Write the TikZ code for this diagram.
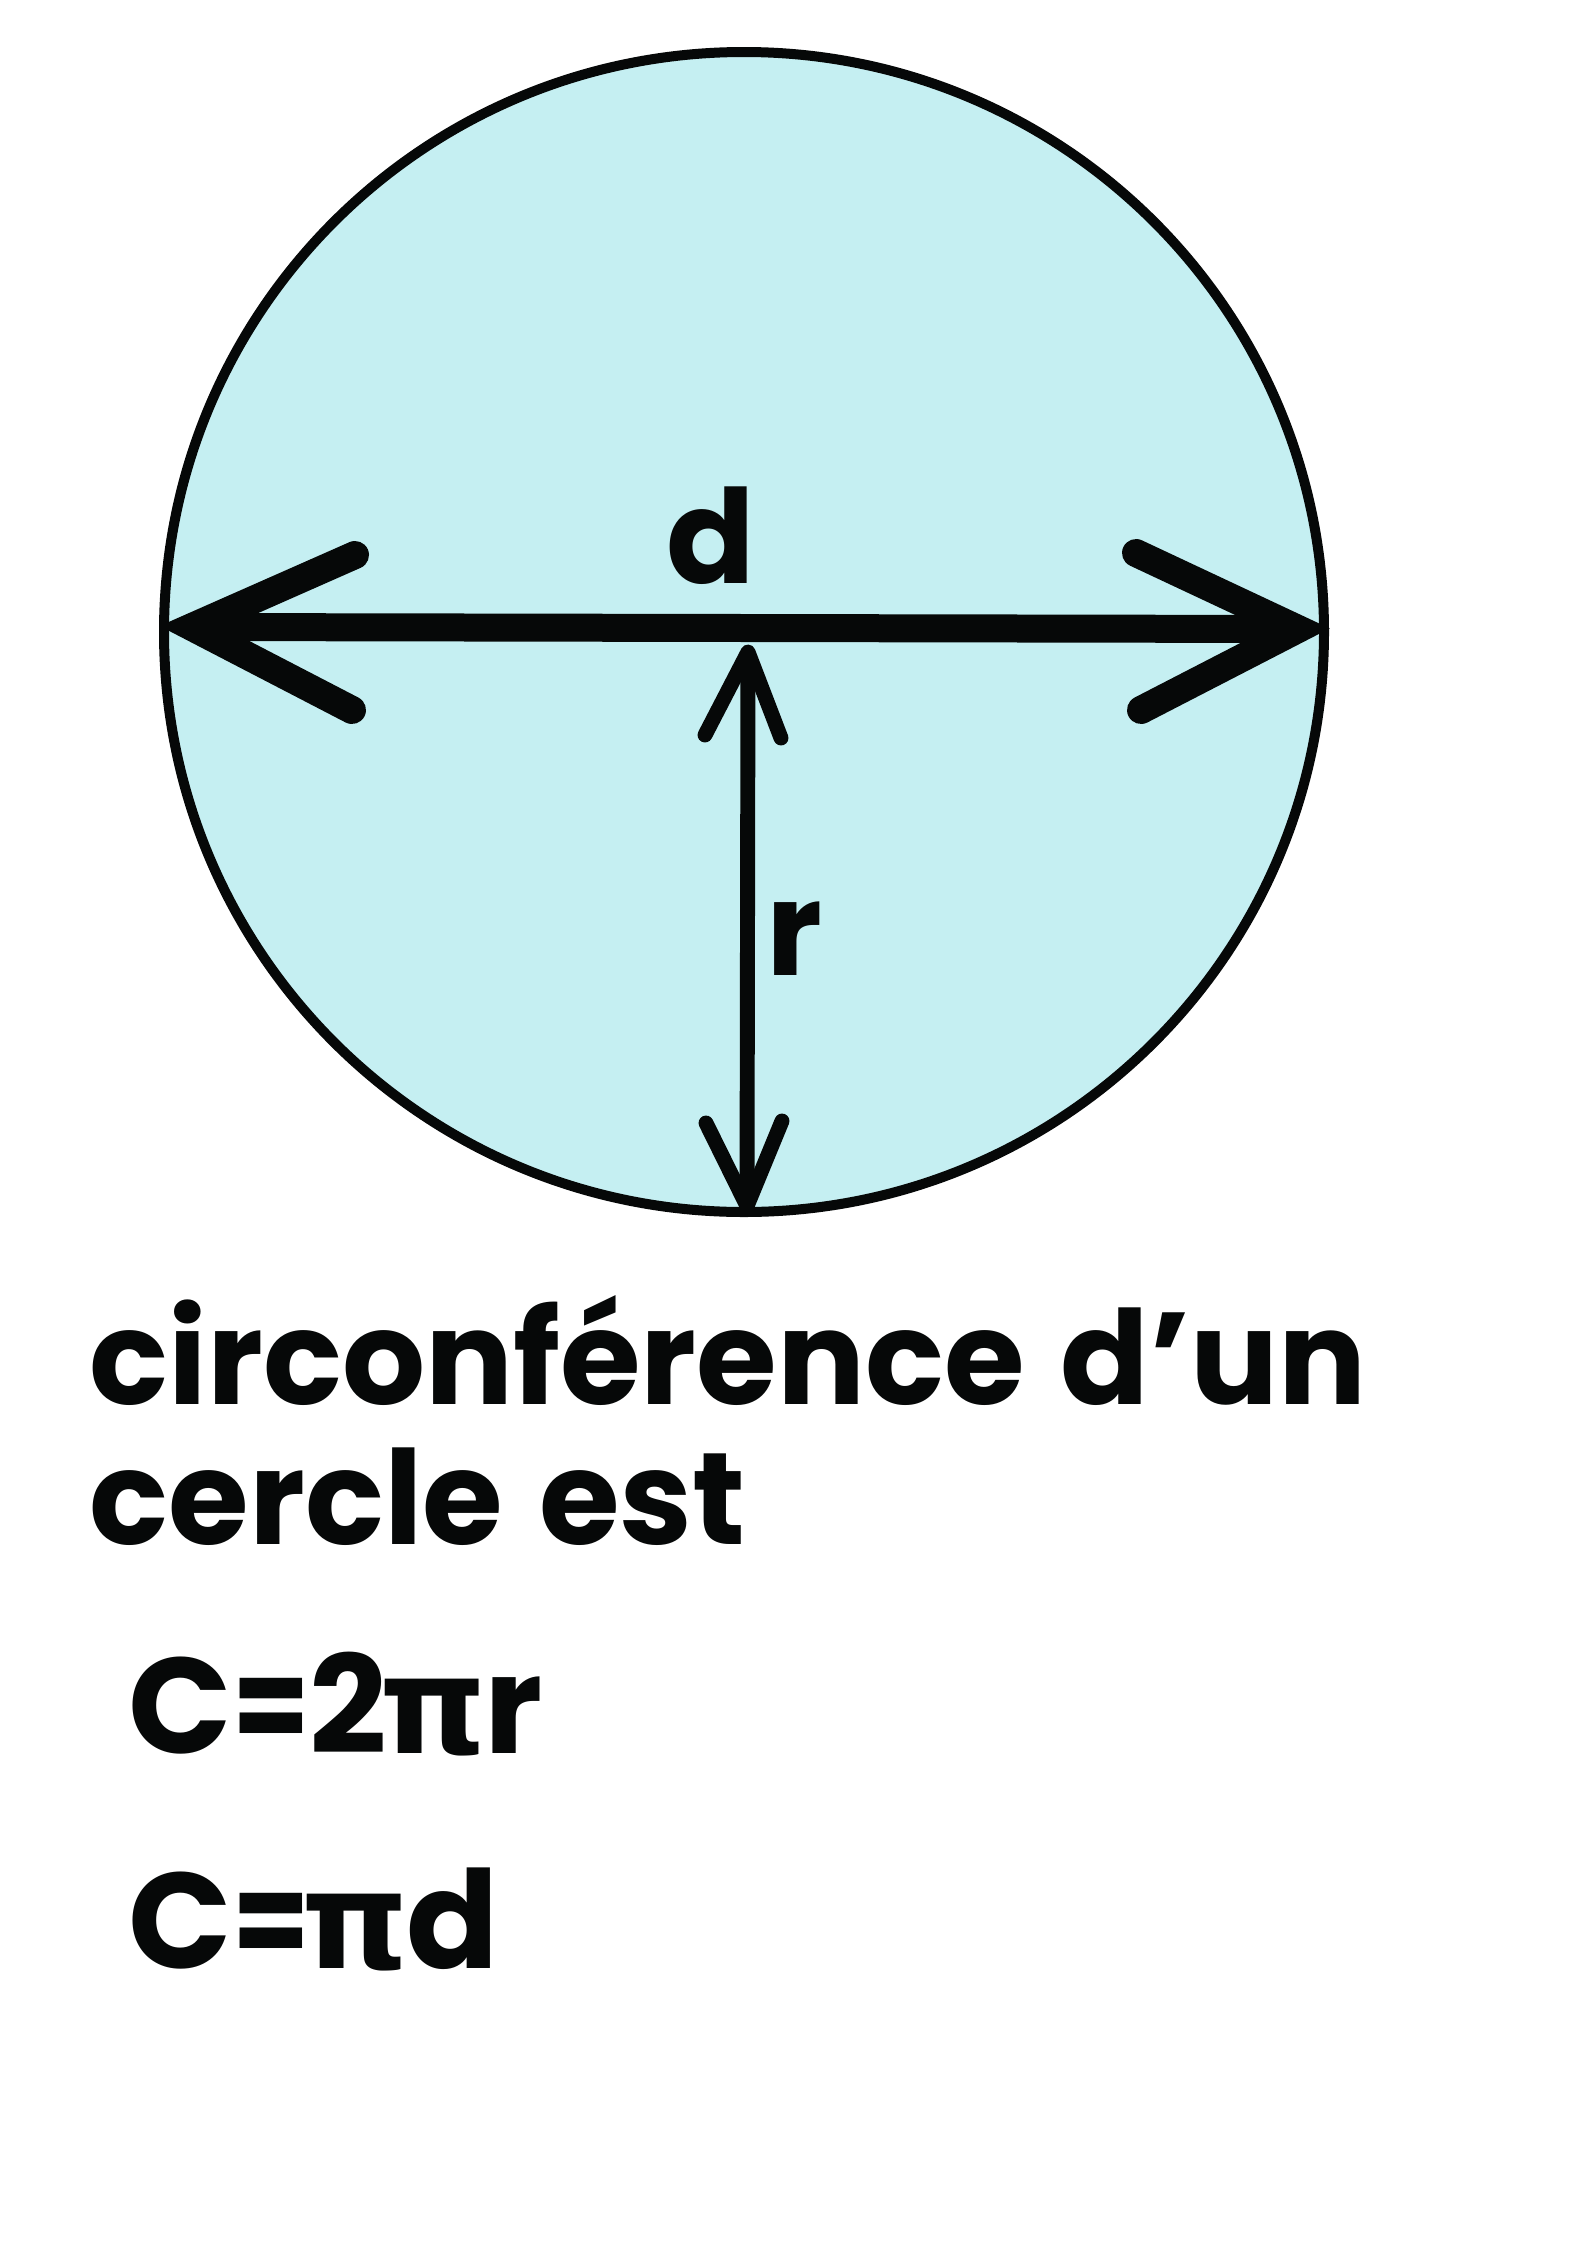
\documentclass[tikz,border=0pt]{standalone}
\usepackage{fontspec}
\setmainfont{Poppins}[WordSpace=1.3]
\newfontfamily\pifont{DejaVu Sans}
\usepackage{tikz}

\definecolor{bleu}{RGB}{197,239,242}
\definecolor{encre}{RGB}{6,8,8}

\newcommand{\egal}{\scalebox{0.82}[1]{=}}
\newcommand{\lepi}{\kern-3pt{\pifont π}\kern-1pt}

\tikzstyle{disque} = [draw=encre, fill=bleu, line width=3.75pt]
\tikzstyle{diam} = [draw=encre, line width=10.5pt]
\tikzstyle{pointe} = [draw=encre, line width=10.5pt, line cap=round, line join=miter]
\tikzstyle{rayon} = [draw=encre, line width=5.6pt]
\tikzstyle{fleche} = [draw=encre, line width=5.6pt, line cap=round, line join=round]
\tikzstyle{lettre} = [inner sep=0pt, anchor=base, text=encre, font=\fontsize{49}{49}\selectfont\bfseries]
\tikzstyle{texte} = [inner sep=0pt, anchor=base west, text=encre, font=\fontsize{49}{52}\selectfont\bfseries]
\tikzstyle{formule} = [inner sep=0pt, anchor=base west, text=encre, font=\fontsize{51}{51}\selectfont\bfseries]

\begin{document}
\begin{tikzpicture}[x=0.375pt, y=-0.375pt]

	\useasboundingbox (0,0) rectangle (1587,2245);

	\draw [disque] (744,632) circle (580);

	\coordinate (gauche) at (192,627);
	\coordinate (droite) at (1298,629);
	\coordinate (haut) at (748,652);
	\coordinate (bas) at (747,1206);

	\draw [diam] (gauche) -- (droite);
	\draw [pointe] (gauche) ++(163,-72) -- (gauche) -- ++(160,83);
	\draw [pointe] (droite) ++(-162,-76) -- (droite) -- ++(-157,81);

	\draw [rayon] (haut) -- (bas);
	\draw [fleche] (haut) ++(-43,83) -- (haut) -- ++(33,86);
	\draw [fleche] (bas) ++(-41,-83) -- (bas) -- ++(35,-85);

	\node (lettreD) [lettre] at (711,583) {d};
	\node (lettreR) [lettre, anchor=base west] at (766,975) {r};

	\node (ligne1) [texte] at (89,1404) {circonférence d’un};
	\node (ligne2) [texte] at (89,1544) {cercle est};

	\node (form1) [formule] at (128,1753) {C\egal2\lepi r};
	\node (form2) [formule] at (128,1968) {C\egal\lepi d};

\end{tikzpicture}
\end{document}
